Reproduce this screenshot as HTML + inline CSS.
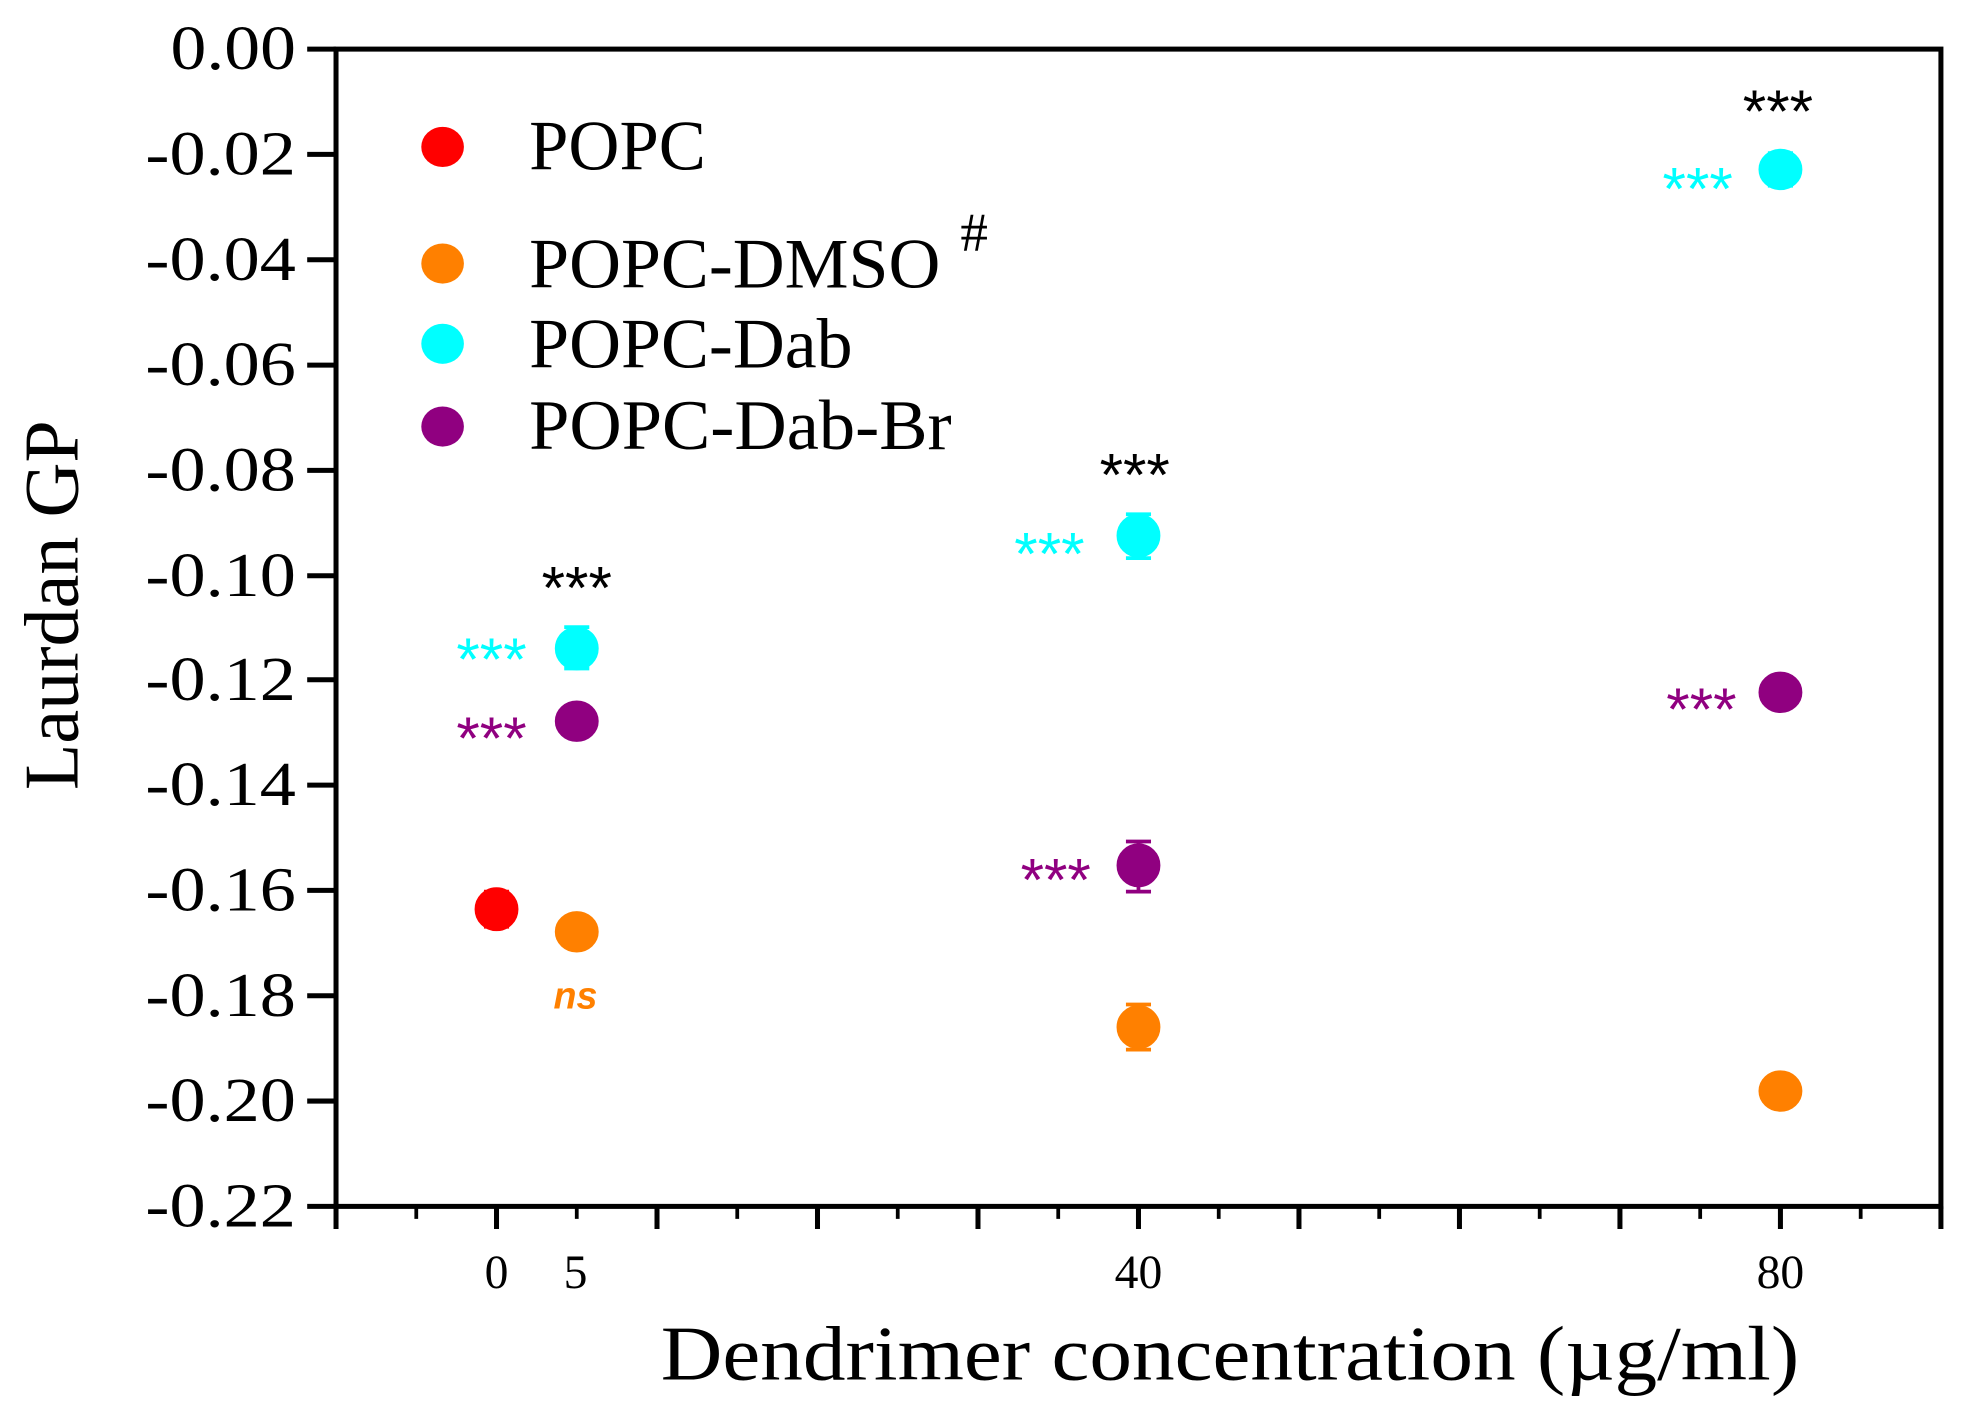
<!DOCTYPE html>
<html><head><meta charset="utf-8"><style>html,body{margin:0;padding:0;background:#fff}svg{display:block}</style></head><body>
<svg width="1966" height="1421" viewBox="0 0 1568 1133" xmlns="http://www.w3.org/2000/svg" font-family="Liberation Serif, serif">
<rect width="1568" height="1133" fill="#fff"/>
<g stroke="#000" stroke-width="4" fill="none">
<rect x="268" y="39" width="1280" height="923"/>
<path d="M245 39H268M245 123H268M245 207H268M245 291H268M245 375H268M245 459H268M245 542H268M245 626H268M245 710H268M245 794H268M245 878H268M245 962H268"/>
<path d="M268 962v18M396 962v18M524 962v18M652 962v18M780 962v18M908 962v18M1036 962v18M1164 962v18M1292 962v18M1420 962v18M1548 962v18"/>
<path d="M332 962v10M460 962v10M588 962v10M716 962v10M844 962v10M972 962v10M1100 962v10M1228 962v10M1356 962v10M1484 962v10" stroke-width="3"/>
</g>
<g font-size="50" text-anchor="end" lengthAdjust="spacingAndGlyphs">
<text x="236" y="55" textLength="100" lengthAdjust="spacingAndGlyphs">0.00</text>
<text x="236" y="139" textLength="120" lengthAdjust="spacingAndGlyphs">-0.02</text>
<text x="236" y="223" textLength="120" lengthAdjust="spacingAndGlyphs">-0.04</text>
<text x="236" y="307" textLength="120" lengthAdjust="spacingAndGlyphs">-0.06</text>
<text x="236" y="391" textLength="120" lengthAdjust="spacingAndGlyphs">-0.08</text>
<text x="236" y="475" textLength="120" lengthAdjust="spacingAndGlyphs">-0.10</text>
<text x="236" y="558" textLength="120" lengthAdjust="spacingAndGlyphs">-0.12</text>
<text x="236" y="642" textLength="120" lengthAdjust="spacingAndGlyphs">-0.14</text>
<text x="236" y="726" textLength="120" lengthAdjust="spacingAndGlyphs">-0.16</text>
<text x="236" y="810" textLength="120" lengthAdjust="spacingAndGlyphs">-0.18</text>
<text x="236" y="894" textLength="120" lengthAdjust="spacingAndGlyphs">-0.20</text>
<text x="236" y="978" textLength="120" lengthAdjust="spacingAndGlyphs">-0.22</text>
</g>
<g font-size="38" text-anchor="middle">
<text x="396" y="1027">0</text><text x="459" y="1027">5</text><text x="908" y="1027">40</text><text x="1420" y="1027">80</text>
</g>
<text x="527" y="1100" font-size="62" textLength="908" lengthAdjust="spacingAndGlyphs">Dendrimer concentration (µg/ml)</text>
<text transform="translate(62,630) rotate(-90)" font-size="62" textLength="295" lengthAdjust="spacingAndGlyphs">Laurdan GP</text>
<g stroke-width="3">
<g stroke="#f00" fill="#f00"><path d="M386 711h20M396 711v28M386 739h20"/><ellipse cx="396" cy="725" rx="16" ry="16"/></g>
<g stroke="#ff8000" fill="#ff8000"><ellipse cx="460" cy="743" rx="16" ry="15"/><path d="M898 801h20M908 801v36M898 837h20"/><ellipse cx="908" cy="819" rx="16" ry="16"/><ellipse cx="1420" cy="870" rx="16" ry="15"/></g>
<g stroke="#00ffff" fill="#00ffff"><path d="M450 500h20M460 500v33M450 533h20"/><ellipse cx="460" cy="517" rx="16" ry="16"/><path d="M898 410h20M908 410v35M898 445h20"/><ellipse cx="908" cy="427" rx="16" ry="16"/><path d="M1410 122h20M1420 122v26M1410 148h20"/><ellipse cx="1420" cy="135" rx="16" ry="15"/></g>
<g stroke="#900080" fill="#900080"><ellipse cx="460" cy="575" rx="16" ry="15"/><path d="M898 671h20M908 671v40M898 711h20"/><ellipse cx="908" cy="690" rx="16" ry="16"/><ellipse cx="1420" cy="552" rx="16" ry="15"/></g>
</g>
<g font-size="48" font-family="Liberation Sans, sans-serif" text-anchor="middle">
<text x="460" y="485" fill="#000">***</text><text x="905" y="395" fill="#000">***</text><text x="1418" y="105" fill="#000">***</text>
<text x="392" y="542" fill="#00ffff">***</text><text x="837" y="458" fill="#00ffff">***</text><text x="1354" y="167" fill="#00ffff">***</text>
<text x="392" y="605" fill="#900080">***</text><text x="842" y="718" fill="#900080">***</text><text x="1357" y="582" fill="#900080">***</text>
</g>
<text x="459" y="804" font-size="30" font-family="Liberation Sans, sans-serif" font-weight="bold" font-style="italic" fill="#ff8000" text-anchor="middle">ns</text>
<ellipse cx="353" cy="117" rx="17" ry="16" fill="#f00"/>
<ellipse cx="353" cy="210" rx="17" ry="16" fill="#ff8000"/>
<ellipse cx="353" cy="274" rx="17" ry="16" fill="#00ffff"/>
<ellipse cx="353" cy="340" rx="17" ry="16" fill="#900080"/>
<g font-size="57">
<text x="422" y="135" textLength="141" lengthAdjust="spacingAndGlyphs">POPC</text>
<text x="422" y="229" textLength="328" lengthAdjust="spacingAndGlyphs">POPC-DMSO</text>
<text x="422" y="293" textLength="258" lengthAdjust="spacingAndGlyphs">POPC-Dab</text>
<text x="422" y="358" textLength="337" lengthAdjust="spacingAndGlyphs">POPC-Dab-Br</text>
</g>
<text x="766" y="200" font-size="44">#</text>
</svg>
</body></html>
